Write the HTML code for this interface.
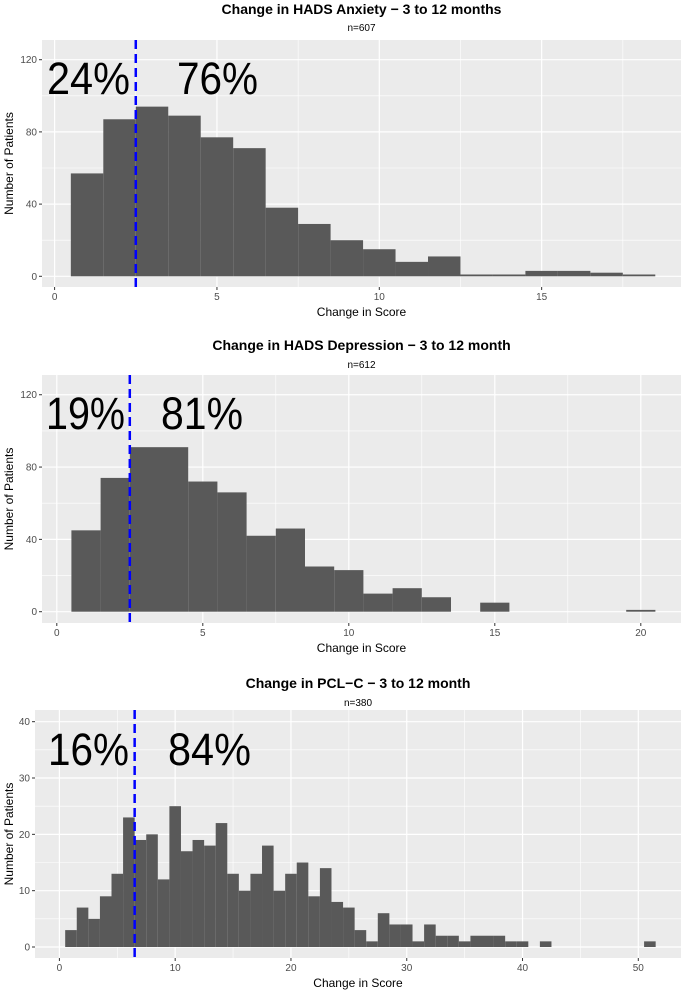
<!DOCTYPE html>
<html><head><meta charset="utf-8"><style>
body{margin:0;background:#fff}
svg{display:block;font-family:"Liberation Sans",Arial,sans-serif}
</style></head><body>
<svg id="c" width="685" height="992"></svg>
<script>
const anxCounts=[57,87,94,89,77,71,38,29,20,15,8,11,1,1,3,3,2,1];
const depCounts=[45,74,91,91,72,66,42,46,25,23,10,13,8,0,5,0,0,0,0,1];
const pclCounts=[3,7,5,9,13,23,19,20,12,25,17,19,18,22,13,10,13,18,10,13,15,9,14,8,7,3,1,6,4,4,1,4,2,2,1,2,2,2,1,1,0,1,0,0,0,0,0,0,0,0,1];
const anxXTicks=[0,5,10,15];
const depXTicks=[0,5,10,15,20];
const pclXTicks=[0,10,20,30,40,50];
const hadsYTicks=[0,40,80,120];
const pclYTicks=[0,10,20,30,40];
const panels=[
 {name:'anxiety',title:'Change in HADS Anxiety \u2212 3 to 12 months',sub:'n=607',counts:anxCounts,xt:anxXTicks,yt:hadsYTicks,cut:2.5,lo:'24%',hi:'76%',
  top:40,bot:287,left:42,x0:54.6,xs:32.47,y0:276.3,ys:1.805,ty:14,sy:31,xty:316,labY:94,loX:[47,130],hiX:[177,258]},
 {name:'depression',title:'Change in HADS Depression \u2212 3 to 12 month',sub:'n=612',counts:depCounts,xt:depXTicks,yt:hadsYTicks,cut:2.5,lo:'19%',hi:'81%',
  top:375,bot:623,left:42,x0:56.8,xs:29.2,y0:611.7,ys:1.808,ty:350,sy:368,xty:652,labY:429,loX:[46,125],hiX:[161,243]},
 {name:'pcl',title:'Change in PCL\u2212C \u2212 3 to 12 month',sub:'n=380',counts:pclCounts,xt:pclXTicks,yt:pclYTicks,cut:6.5,lo:'16%',hi:'84%',
  top:710,bot:958,left:35,x0:59.4,xs:11.578,y0:947,ys:5.633,ty:688,sy:706,xty:987,labY:765,loX:[48,129],hiX:[168,251]}
];
const NS='http://www.w3.org/2000/svg';
const svg=document.getElementById('c');
function mk(tag,attrs,parent,txt){const e=document.createElementNS(NS,tag);for(const k in attrs)e.setAttribute(k,attrs[k]);if(txt!==undefined)e.textContent=txt;(parent||svg).appendChild(e);return e;}
const right=681;
panels.forEach(p=>{
 const g=mk('g',{});
 
 
 const X=v=>p.x0+v*p.xs, Y=v=>p.y0-v*p.ys;
 const bg=mk('rect',{x:p.left,y:p.top,width:right-p.left,height:p.bot-p.top,fill:'#ebebeb'},g);
 
 
 const xstep=p.xt[1]-p.xt[0], ystep=p.yt[1]-p.yt[0];
 // minor grid
 for(let v=p.xt[0]-xstep/2;X(v)<=right;v+=xstep){if(X(v)>=p.left)mk('line',{x1:X(v),x2:X(v),y1:p.top,y2:p.bot,stroke:'#fff','stroke-width':0.6},g);}
 for(let v=p.yt[0]-ystep/2;Y(v)>=p.top;v+=ystep){if(Y(v)<=p.bot)mk('line',{x1:p.left,x2:right,y1:Y(v),y2:Y(v),stroke:'#fff','stroke-width':0.6},g);}
 for(let v=p.xt[0];X(v)<=right;v+=xstep){mk('line',{x1:X(v),x2:X(v),y1:p.top,y2:p.bot,stroke:'#fff','stroke-width':1.2},g);}
 p.yt.forEach(v=>mk('line',{x1:p.left,x2:right,y1:Y(v),y2:Y(v),stroke:'#fff','stroke-width':1.2},g));
 // bars
 p.counts.forEach((c,i)=>{
  if(c<=0) return;
  const b=mk('rect',{x:X(i+0.5),y:Y(c),width:p.xs,height:Y(0)-Y(c),fill:'#595959'},g);
  
  
 });
 // cutoff
 const cl=mk('line',{x1:X(p.cut),x2:X(p.cut),y1:p.top,y2:p.bot,stroke:'#0000ff','stroke-width':2.5,'stroke-dasharray':'9,5'},g);
 
 
 // ticks
 p.xt.forEach(v=>{mk('line',{x1:X(v),x2:X(v),y1:p.bot,y2:p.bot+3,stroke:'#333'},g);
  const t=mk('text',{x:X(v),y:p.bot+13,'text-anchor':'middle','font-size':10,fill:'#4d4d4d'},g,v);
  
  });
 p.yt.forEach(v=>{mk('line',{x1:p.left-3,x2:p.left,y1:Y(v),y2:Y(v),stroke:'#333'},g);
  const t=mk('text',{x:p.left-5,y:Y(v)+3.5,'text-anchor':'end','font-size':10,fill:'#4d4d4d'},g,v);
  
  });
 const ti=mk('text',{x:(p.left+right)/2,y:p.ty,'text-anchor':'middle','font-size':14,'font-weight':'bold'},g,p.title);
 
 
 const su=mk('text',{x:(p.left+right)/2,y:p.sy,'text-anchor':'middle','font-size':10},g,p.sub);
 
 
 const xt=mk('text',{x:(p.left+right)/2,y:p.xty,'text-anchor':'middle','font-size':12},g,'Change in Score');
 
 
 const cy=(p.top+p.bot)/2;
 const yt=mk('text',{x:0,y:0,'text-anchor':'middle','font-size':12,transform:`translate(13,${cy}) rotate(-90)`},g,'Number of Patients');
 
 
 const l1=mk('text',{x:p.loX[0],y:p.labY,'font-size':45,textLength:p.loX[1]-p.loX[0],lengthAdjust:'spacingAndGlyphs'},g,p.lo);
 
 
 const l2=mk('text',{x:p.hiX[0],y:p.labY,'font-size':45,textLength:p.hiX[1]-p.hiX[0],lengthAdjust:'spacingAndGlyphs'},g,p.hi);
 
 
});
</script>
</body></html>
